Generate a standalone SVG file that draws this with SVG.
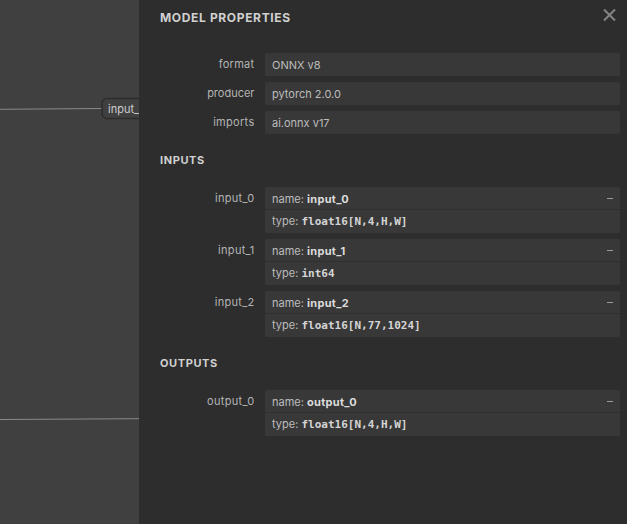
<svg xmlns="http://www.w3.org/2000/svg" width="627" height="524" viewBox="0 0 627 524">
<style>
text{font-family:"Inter","Noto Sans",sans-serif;font-size:11px;fill:#cfcfcf}
.lab{text-anchor:end;fill:#b4b4b4}
.us{letter-spacing:.3px}
.val{fill:#bcbcbc}
.nm{font-weight:700;fill:#dcdcdc;letter-spacing:.3px}
.mono{font-family:"DejaVu Sans Mono",monospace;font-weight:700;font-size:11px;fill:#d4d4d4}
.h{font-weight:700;fill:#d0d0d0;letter-spacing:.6px}
.box{fill:#383838}
.sep{stroke:#2f2f2f;stroke-width:1}
.edge{stroke:#8a8a8a;stroke-width:1;fill:none}
.dash{fill:#9a9a9a}
</style>
<rect id="canvas" width="627" height="524" fill="#404040"/>
<g id="connectors">
<path class="edge" d="M0 109.300L102 108.500"/>
<path class="edge" d="M0 419.500L139 418.700"/>
</g>
<g id="node-input">
<rect x="102" y="98.500" width="50" height="20" rx="5" fill="#404040" stroke="#2c2c2c" stroke-width="1.500"/>
<text x="108" y="113" style="fill:#cccccc">input_</text>
</g>
<g id="panel">
<rect x="139" y="0" width="488" height="524" fill="#2d2d2d"/>
<text x="160" y="22" class="h" style="font-size:12px;letter-spacing:.65px">MODEL PROPERTIES</text>
<path d="M604 9.500L615 20.500M615 9.500L604 20.500" stroke="#858585" stroke-width="2" fill="none"/>
</g>
<g id="prop-format"><text class="lab us" x="254.500" y="68">format</text><rect class="box" x="265" y="53" width="355" height="23" rx="2"/><text class="val" x="272" y="69">ONNX v8</text></g>
<g id="prop-producer"><text class="lab" x="254.500" y="97">producer</text><rect class="box" x="265" y="82" width="355" height="23" rx="2"/><text class="val" x="272" y="98">pytorch 2.0.0</text></g>
<g id="prop-imports"><text class="lab us" x="254.500" y="126">imports</text><rect class="box" x="265" y="111" width="355" height="23" rx="2"/><text class="val" x="272" y="127">ai.onnx v17</text></g>
<text x="160" y="164" class="h" style="font-size:11px">INPUTS</text>
<g id="input-0"><text class="lab us" x="254.500" y="202">input_0</text><rect class="box" x="265" y="187" width="355" height="46" rx="2"/><path class="sep" d="M265 209.500H620"/><text class="val" x="272" y="203">name: <tspan class="nm">input_0</tspan></text><text class="val" x="272" y="225">type: <tspan class="mono">float16[N,4,H,W]</tspan></text><rect class="dash" x="607" y="198" width="6" height="1"/></g>
<g id="input-1"><text class="lab us" x="254.500" y="254">input_1</text><rect class="box" x="265" y="239" width="355" height="46" rx="2"/><path class="sep" d="M265 261.500H620"/><text class="val" x="272" y="255">name: <tspan class="nm">input_1</tspan></text><text class="val" x="272" y="277">type: <tspan class="mono">int64</tspan></text><rect class="dash" x="607" y="250" width="6" height="1"/></g>
<g id="input-2"><text class="lab us" x="254.500" y="306">input_2</text><rect class="box" x="265" y="291" width="355" height="46" rx="2"/><path class="sep" d="M265 313.500H620"/><text class="val" x="272" y="307">name: <tspan class="nm">input_2</tspan></text><text class="val" x="272" y="329">type: <tspan class="mono">float16[N,77,1024]</tspan></text><rect class="dash" x="607" y="302" width="6" height="1"/></g>
<text x="160" y="367" class="h" style="font-size:11px">OUTPUTS</text>
<g id="output-0"><text class="lab us" x="254.500" y="405">output_0</text><rect class="box" x="265" y="390" width="355" height="46" rx="2"/><path class="sep" d="M265 412.500H620"/><text class="val" x="272" y="406">name: <tspan class="nm">output_0</tspan></text><text class="val" x="272" y="428">type: <tspan class="mono">float16[N,4,H,W]</tspan></text><rect class="dash" x="607" y="401" width="6" height="1"/></g>
</svg>
